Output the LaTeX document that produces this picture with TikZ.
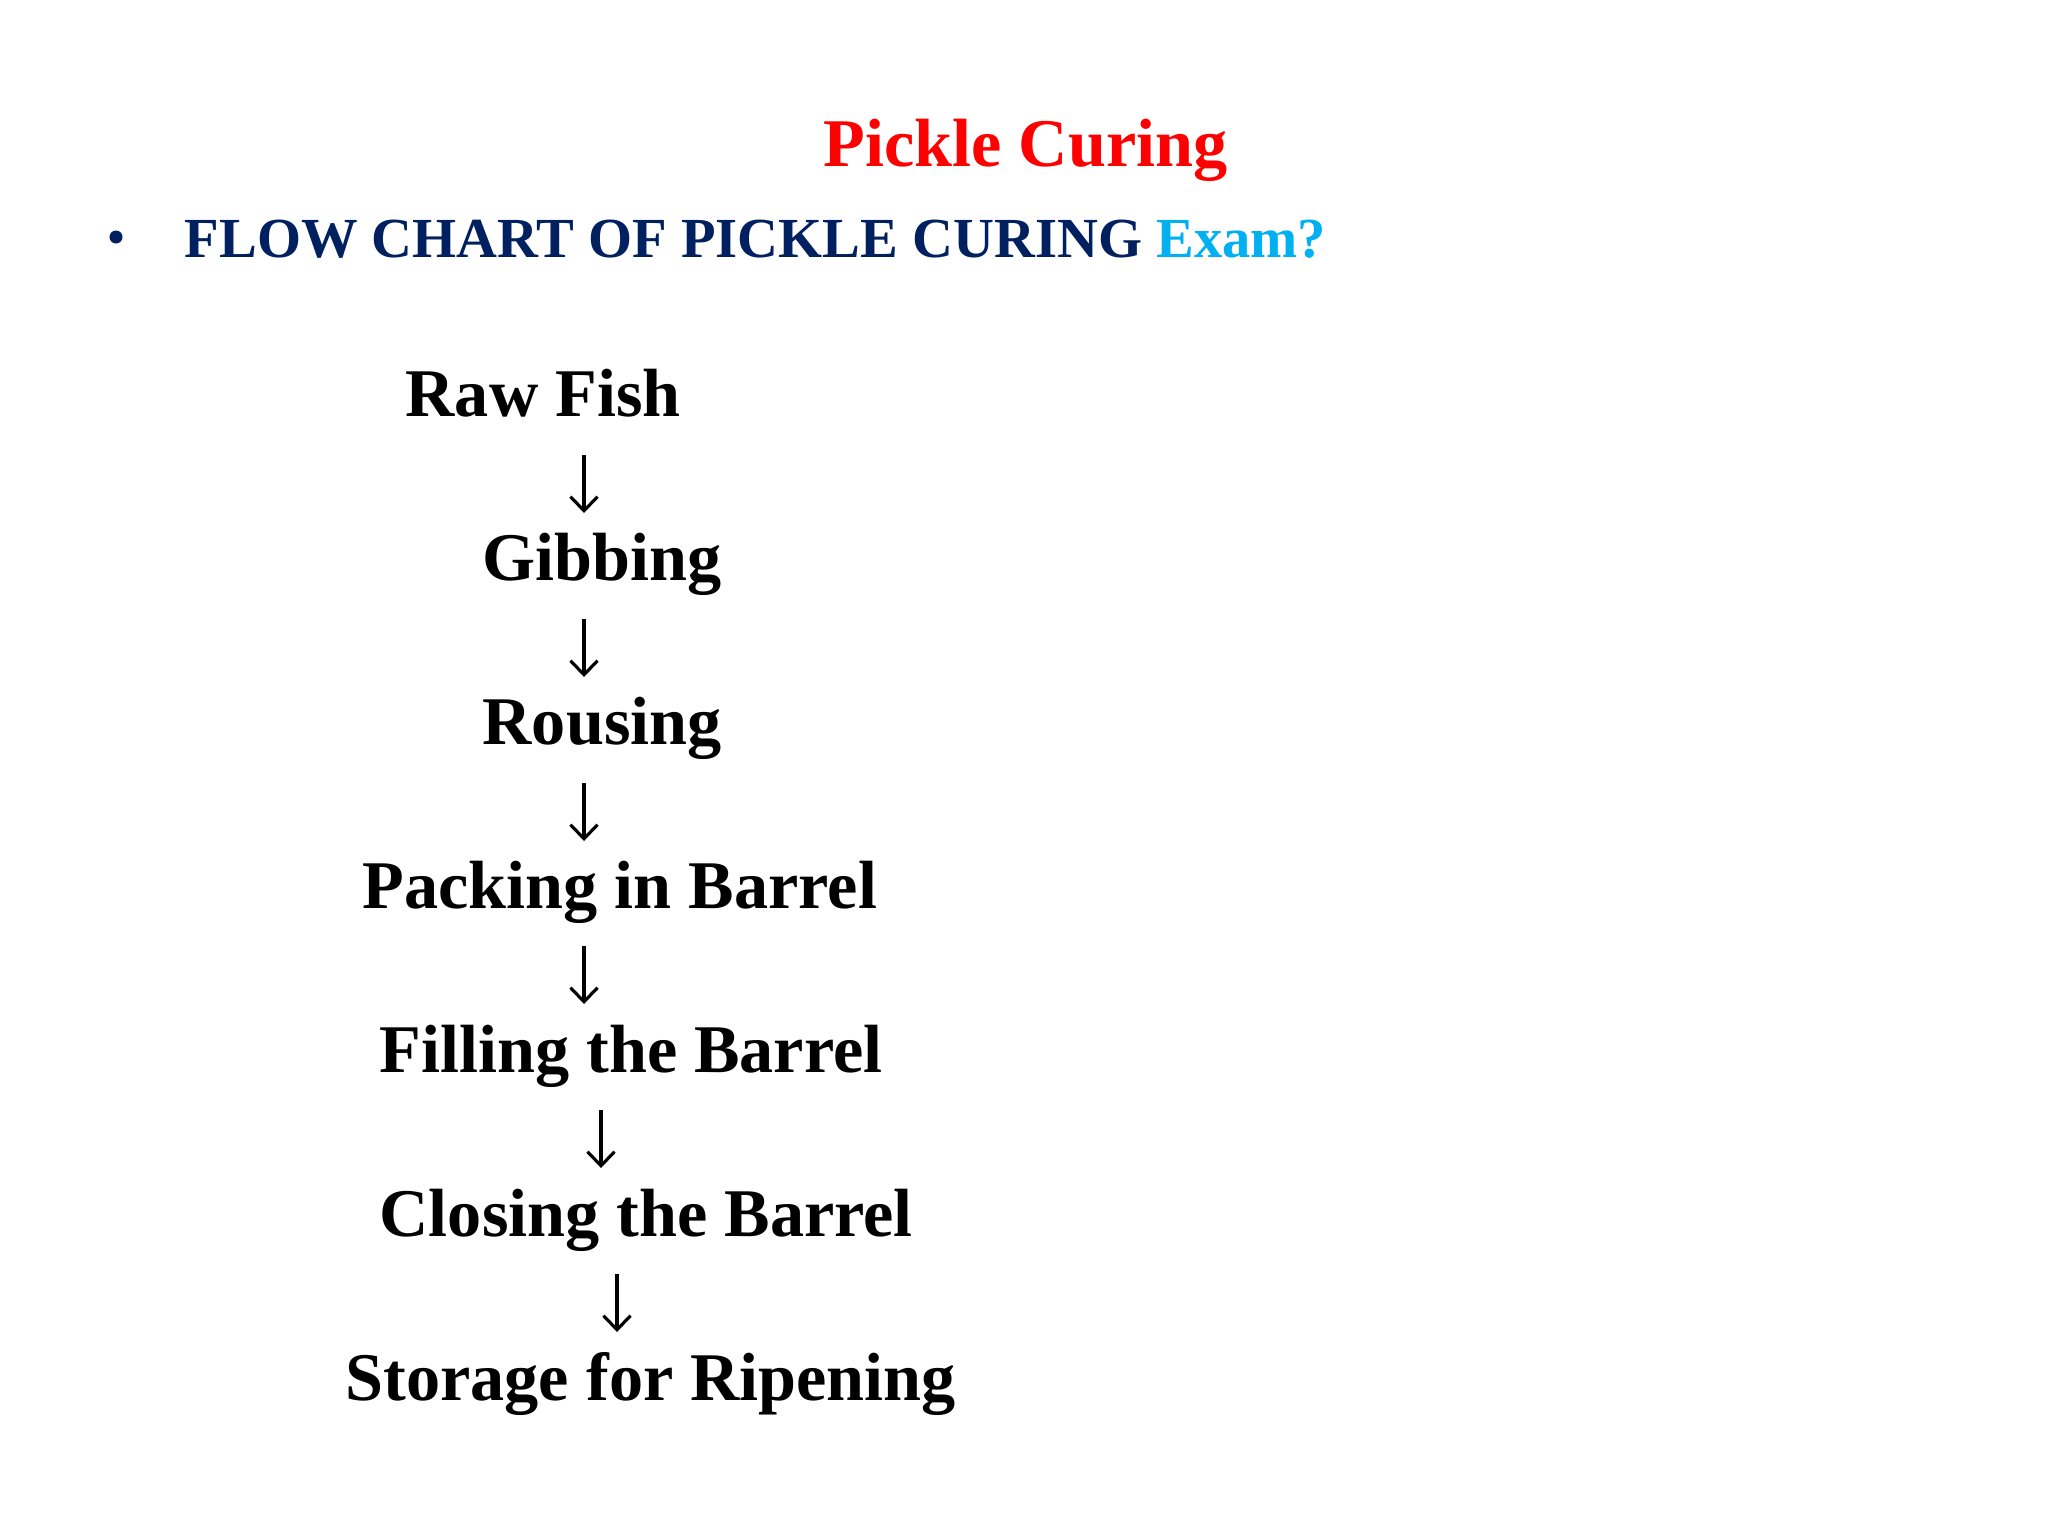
\documentclass[tikz,border=0pt]{standalone}
\usepackage{fontspec}
\setmainfont{Liberation Serif}
\usetikzlibrary{arrows.meta}
\definecolor{titlered}{HTML}{FF0000}
\definecolor{navy}{HTML}{002060}
\definecolor{skyblue}{HTML}{00B0F0}
\begin{document}
\begin{tikzpicture}[x=0.01cm,y=-0.01cm,
  stepbox/.style={anchor=base west,inner sep=0pt,font=\fontsize{19.4}{22}\selectfont\bfseries},
  arr/.style={line width=0.9pt,-{Straight Barb[length=0.14cm,width=0.27cm,line width=0.9pt]}}]
\useasboundingbox[fill=white] (0,0) rectangle (2048,1536);
\node[anchor=base west,inner sep=0pt,text=titlered,font=\fontsize{19.4}{23}\selectfont\bfseries] (title) at (823,166) {Pickle Curing};
\node[circle,fill=navy,inner sep=0pt,minimum size=0.13cm] (bullet) at (116,237) {};
\node[anchor=base west,inner sep=0pt,text=navy,font=\fontsize{16.1}{20}\selectfont\bfseries] (sub) at (184,257) {FLOW CHART OF PICKLE CURING \textcolor{skyblue}{Exam?}};
\node[stepbox] (s1) at (405,416) {Raw Fish};
\node[stepbox] (s2) at (482,580) {Gibbing};
\node[stepbox] (s3) at (482,744) {Rousing};
\node[stepbox] (s4) at (362,908) {Packing in Barrel};
\node[stepbox] (s5) at (379,1072) {Filling the Barrel};
\node[stepbox] (s6) at (379,1236) {Closing the Barrel};
\node[stepbox] (s7) at (345,1400) {Storage for Ripening};
\coordinate (a1s) at (584,455); \coordinate (a1e) at (584,513);
\coordinate (a2s) at (584,619); \coordinate (a2e) at (584,677);
\coordinate (a3s) at (584,783); \coordinate (a3e) at (584,841);
\coordinate (a4s) at (584,946); \coordinate (a4e) at (584,1004);
\coordinate (a5s) at (601,1110); \coordinate (a5e) at (601,1168);
\coordinate (a6s) at (617,1274); \coordinate (a6e) at (617,1332);
\draw[arr] (a1s) -- (a1e);
\draw[arr] (a2s) -- (a2e);
\draw[arr] (a3s) -- (a3e);
\draw[arr] (a4s) -- (a4e);
\draw[arr] (a5s) -- (a5e);
\draw[arr] (a6s) -- (a6e);
\end{tikzpicture}
\end{document}
